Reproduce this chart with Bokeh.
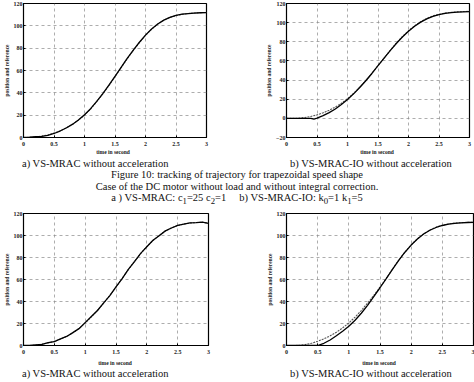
from bokeh.plotting import figure
from bokeh.layouts import column, row
from bokeh.models import Div, FixedTicker
from bokeh.embed import file_html
from bokeh.resources import INLINE

# ---------------- data ----------------
t = [0.0, 0.1, 0.2, 0.3, 0.4, 0.5, 0.6, 0.7, 0.8, 0.9, 1.0, 1.1, 1.2, 1.3, 1.4, 1.5,
     1.6, 1.7, 1.8, 1.9, 2.0, 2.1, 2.2, 2.3, 2.4, 2.5, 2.6, 2.7, 2.8, 2.9, 3.0]

# a) VS-MRAC without acceleration (top)
a_ref = [0, 0.1, 0.5, 1.2, 2.3, 3.9, 6.0, 8.6, 11.6, 15.5, 20.0, 25.5, 32.0, 39.0, 46.5, 54.5,
         62.5, 70.5, 78.0, 85.0, 91.5, 97.0, 101.5, 105.0, 107.5, 109.2, 110.3, 111.0, 111.5, 111.8, 112.0]
a_pos = [0, 0.3, 0.8, 1.0, 2.0, 3.6, 5.8, 8.5, 11.7, 15.6, 20.3, 25.8, 32.3, 39.3, 46.8, 54.8,
         62.8, 70.8, 78.3, 85.3, 91.7, 97.2, 101.6, 105.1, 107.6, 109.3, 110.4, 111.0, 111.4, 111.7, 111.9]

# b) VS-MRAC-IO without acceleration (top)
b_ref = [0, 0, 0.2, 0.9, 2.0, 3.6, 5.8, 8.5, 11.8, 15.8, 20.5, 26.0, 32.5, 39.5, 47.0, 55.0,
         63.0, 71.0, 78.5, 85.5, 91.5, 96.8, 101.0, 104.5, 107.0, 108.7, 110.0, 110.8, 111.3, 111.6, 111.8]
b_t_pos = [0.0, 0.1, 0.2, 0.3, 0.4, 0.45, 0.5, 0.6, 0.7, 0.8, 0.9, 1.0, 1.1, 1.2, 1.3, 1.4, 1.5,
           1.6, 1.7, 1.8, 1.9, 2.0, 2.1, 2.2, 2.3, 2.4, 2.5, 2.6, 2.7, 2.8, 2.9, 3.0]
b_pos = [0, 0, 0, 0, 0, -0.8, 0.3, 2.8, 6.0, 9.8, 14.5, 19.8, 25.6, 32.2, 39.3, 46.9, 55.0,
         63.0, 70.8, 78.2, 85.0, 91.0, 96.3, 100.5, 104.0, 106.6, 108.3, 109.6, 110.5, 111.0, 111.3, 111.5]

# a) VS-MRAC without acceleration (bottom)
c_ref = [0, 0, 0.4, 1.2, 2.3, 3.8, 5.8, 8.3, 11.5, 15.5, 20.5, 26.0, 32.0, 38.5, 45.5, 53.0,
         61.0, 69.0, 76.5, 83.5, 90.0, 95.5, 100.0, 104.0, 107.0, 109.0, 110.5, 111.3, 111.8, 112.0, 111.3]
c_pos = [0, 0, 0.6, 1.0, 2.6, 3.6, 6.0, 8.2, 11.7, 15.3, 20.8, 26.3, 31.8, 38.7, 45.3, 53.2,
         60.8, 69.2, 76.3, 83.7, 89.8, 95.7, 99.8, 104.2, 106.8, 109.2, 110.4, 111.4, 111.7, 112.1, 111.0]

# b) VS-MRAC-IO without acceleration (bottom)
d_ref = [0, 0, 0.1, 0.8, 2.0, 3.8, 6.0, 8.8, 12.0, 16.0, 20.5, 25.8, 31.8, 38.5, 45.5, 53.0,
         61.0, 69.5, 77.5, 85.0, 91.5, 97.0, 101.5, 105.0, 107.5, 109.3, 110.5, 111.3, 111.7, 111.9, 112.0]
d_pos = [0, 0, 0, 0, 0, 0, 2.0, 5.0, 8.8, 13.0, 17.5, 23.0, 29.3, 36.5, 44.5, 52.5,
         60.8, 69.3, 77.3, 84.8, 91.3, 96.8, 101.3, 104.8, 107.3, 109.1, 110.3, 111.1, 111.5, 111.8, 111.9]

x_ticks = [0, 0.5, 1, 1.5, 2, 2.5, 3]
x_tick_labels = ["0", "0.5", "1", "1.5", "2", "2.5", "3"]
y_ticks_top_b = [-20, 0, 20, 40, 60, 80, 100, 120]
y_ticks = [0, 20, 40, 60, 80, 100, 120]

x_label = "time in second"
y_label = "position and reference"
cap_a = "a) VS-MRAC without acceleration"
cap_b = "b) VS-MRAC-IO without acceleration"
fig_lines = ["Figure 10: tracking of trajectory for trapezoidal speed shape",
             "Case of the DC motor without load and without integral correction.",
             "a ) VS-MRAC: c<sub>1</sub>=25 c<sub>2</sub>=1 &nbsp;&nbsp;&nbsp; "
             "b) VS-MRAC-IO: k<sub>0</sub>=1 k<sub>1</sub>=5"]

SERIF = "Liberation Serif"


def make_panel(width, height, ymin, yticks, ref_t, ref_y, pos_t, pos_y, bl, br, bt):
    p = figure(width=width, height=height, x_range=(0, 3), y_range=(ymin, 120),
               output_backend="svg", toolbar_location=None, title=None,
               min_border_left=bl, min_border_right=br, min_border_top=bt, min_border_bottom=14)
    p.background_fill_color = "white"
    p.border_fill_color = "white"
    p.outline_line_color = "black"
    p.outline_line_width = 1.2
    p.line(ref_t, ref_y, line_color="#555555", line_width=1.1, line_dash="2 1")
    p.line(pos_t, pos_y, line_color="black", line_width=1.3)

    p.xaxis.ticker = FixedTicker(ticks=x_ticks)
    p.xaxis.major_label_overrides = {x: l for x, l in zip(x_ticks, x_tick_labels)}
    p.yaxis.ticker = FixedTicker(ticks=yticks)
    for ax in (p.xaxis, p.yaxis):
        ax.axis_line_color = "black"
        ax.major_tick_in = 2
        ax.major_tick_out = 0
        ax.minor_tick_line_color = None
        ax.major_label_text_font = SERIF
        ax.major_label_text_font_size = "6px"
        ax.major_label_text_font_style = "bold"
        ax.major_label_text_color = "#222222"
        ax.axis_label_text_font = SERIF
        ax.axis_label_text_font_size = "5.5px"
        ax.axis_label_text_font_style = "bold"
        ax.axis_label_text_color = "#222222"
    p.xaxis.major_label_standoff = 4
    p.yaxis.axis_label_standoff = 1
    p.yaxis.major_label_standoff = 1
    p.yaxis.axis_label = y_label

    for g in (p.xgrid, p.ygrid):
        g.grid_line_color = "#8a8a8a"
        g.grid_line_dash = "3 3"
        g.grid_line_alpha = 0.7
    p.xgrid.ticker = FixedTicker(ticks=x_ticks)
    p.ygrid.ticker = FixedTicker(ticks=yticks)
    return p


pa = make_panel(237, 151, 0, y_ticks, t, a_ref, t, a_pos, 21, 31, 3)
pb = make_panel(237, 151, -20, y_ticks_top_b, t, b_ref, b_t_pos, b_pos, 49, 5, 1)
pc = make_panel(237, 154, 0, y_ticks, t, c_ref, t, c_pos, 23, 29, 8)
pd = make_panel(237, 154, 0, y_ticks, t, d_ref, t, d_pos, 49, 1, 8)

base = f"font-family:'{SERIF}';color:#111111;"


def span(text, left, top, lh, size, extra=""):
    return (f"<span style=\"position:absolute;left:{left}px;top:{top}px;line-height:{lh}px;"
            f"font-size:{size}px;white-space:nowrap;{extra}\">{text}</span>")


def axis_and_captions(h, xl_left, xl_right, xl_top, cap_top):
    bold = "font-weight:bold;transform:translateX(-50%);color:#222222;"
    return (f"<div style=\"position:relative;height:{h}px;width:474px;{base}\">"
            + span(x_label, xl_left, xl_top, 6, 5.5, bold)
            + span(x_label, xl_right, xl_top, 6, 5.5, bold)
            + span(cap_a, 22, cap_top, 12, 10.5)
            + span(cap_b, 290, cap_top, 12, 10.5)
            + "</div>")


mid_html = (axis_and_captions(18, 113, 377, -2, 7)
            + f"<div style=\"text-align:center;line-height:11.5px;width:474px;font-size:10.5px;{base}\">"
            + "<br>".join(fig_lines) + "</div>")

mid = Div(text=mid_html, width=474, height=54, margin=0,
          styles={"width": "474px", "overflow": "visible"})
bot = Div(text=axis_and_captions(21, 115, 379, 1, 9), width=474, height=21, margin=0,
          styles={"width": "474px", "overflow": "visible"})

layout = column(row(pa, pb), mid, row(pc, pd), bot)

open("out.html", "w").write(file_html(layout, INLINE))
